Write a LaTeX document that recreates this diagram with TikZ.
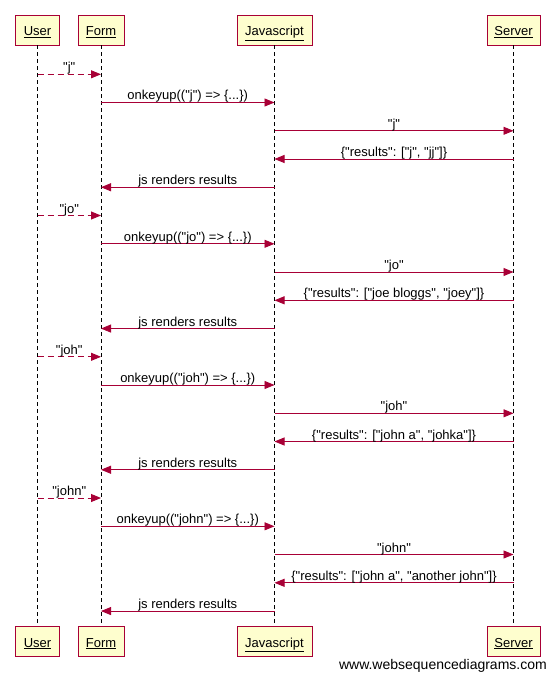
\documentclass[tikz,border=0pt]{standalone}
\usepackage{fontspec}
\setmainfont{Liberation Sans}[Ligatures=TeXOff]
\usetikzlibrary{arrows.meta}
\definecolor{wsdred}{RGB}{168,0,54}
\definecolor{wsdfill}{RGB}{254,254,206}
\begin{document}
\begin{tikzpicture}[x=1pt,y=-1pt,
  actor/.style={draw=wsdred, fill=wsdfill, line width=0.9pt, minimum height=30pt, inner sep=0pt, text height=12pt, text depth=0pt, font=\fontsize{13pt}{15pt}\selectfont, text=black},
  life/.style={draw=black, line width=0.9pt, dash pattern=on 4pt off 3pt},
  msg/.style={draw=wsdred, line width=0.9pt, -{Triangle[length=10pt,width=8pt]}},
  dmsg/.style={msg, dash pattern=on 6pt off 4pt},
  lbl/.style={font=\fontsize{13pt}{15pt}\selectfont, text=black, inner sep=0pt, anchor=base, yshift=2.5pt}]
\useasboundingbox[fill=white] (0,0) rectangle (555,679);
% top actors
\node[actor, minimum width=44pt] (userT) at (37.5,30) {\underline{User}};
\node[actor, minimum width=46pt] (formT) at (101,30) {\underline{Form}};
\node[actor, minimum width=75pt] (jsT) at (274.5,30) {\underline{Javascript}};
\node[actor, minimum width=53pt] (serverT) at (513.5,30) {\underline{Server}};
% bottom actors
\node[actor, minimum width=44pt] (userB) at (37.5,641) {\underline{User}};
\node[actor, minimum width=46pt] (formB) at (101,641) {\underline{Form}};
\node[actor, minimum width=75pt] (jsB) at (274.5,641) {\underline{Javascript}};
\node[actor, minimum width=53pt] (serverB) at (513.5,641) {\underline{Server}};
% lifelines
\draw[life] (userT) -- (userB);
\draw[life] (formT) -- (formB);
\draw[life] (jsT) -- (jsB);
\draw[life] (serverT) -- (serverB);
% messages
\newcommand{\wsdround}[6]{%
  \draw[dmsg] (userT |- 0,#1) -- node[lbl]{#2} (formT |- 0,#1);
  \draw[msg] (formT |- 0,#3) -- node[lbl]{onkeyup((#2) => \{...\})} (jsT |- 0,#3);
  \draw[msg] (jsT |- 0,#4) -- node[lbl]{#2} (serverT |- 0,#4);
  \draw[msg] (serverT |- 0,#5) -- node[lbl]{#6} (jsT |- 0,#5);
  \draw[msg] (jsT |- 0,#5+28.25) -- node[lbl]{js renders results} (formT |- 0,#5+28.25);
}
\wsdround{74.3}{"j"}{102.5}{130.8}{159}{\{"results": ["j", "jj"]\}}
\wsdround{215.5}{"jo"}{243.8}{272}{300.3}{\{"results": ["joe bloggs", "joey"]\}}
\wsdround{356.8}{"joh"}{385}{413.3}{441.5}{\{"results": ["john a", "johka"]\}}
\wsdround{498}{"john"}{526.3}{554.5}{582.8}{\{"results": ["john a", "another john"]\}}
% watermark
\node[font=\fontsize{14pt}{16pt}\selectfont, anchor=base east, inner sep=0pt] (wm) at (547,669) {www.websequencediagrams.com};
\end{tikzpicture}
\end{document}
